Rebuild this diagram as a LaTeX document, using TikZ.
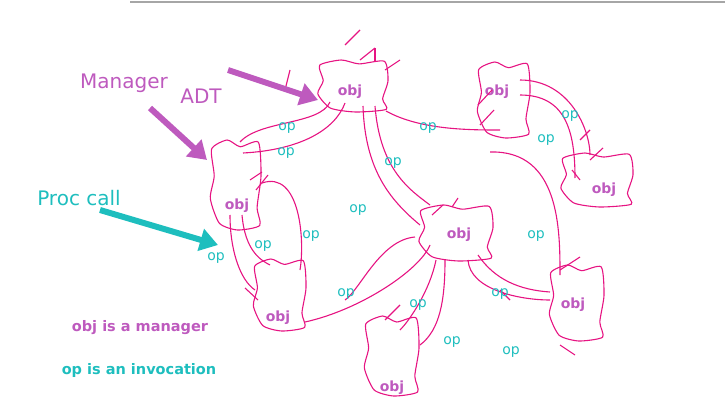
\documentclass[tikz,border=0pt]{standalone}
\usepackage{fontspec}
\setmainfont{DejaVu Sans}
\usetikzlibrary{arrows.meta}
\definecolor{mg}{RGB}{230,20,130}
\definecolor{pu}{RGB}{190,90,190}
\definecolor{tl}{RGB}{30,190,190}
\begin{document}
\begin{tikzpicture}[x=1pt,y=-1pt,
  ln/.style={mg,line width=1.1pt},
  op/.style={tl,font=\fontsize{14}{14}\selectfont},
  ob/.style={pu,font=\bfseries\fontsize{14}{14}\selectfont},
  big/.style={line width=6pt,-{Triangle[length=18pt,width=22pt]}}]
\useasboundingbox (0,0) rectangle (725,417);
\draw[gray!70,line width=2pt] (130,2) -- (725,2);
\newcommand\blob[4]{\draw[ln] plot[smooth cycle,tension=0.4] coordinates {
 ({#1-#3*0.9},{#2-#4*0.8}) ({#1-#3*0.3},{#2-#4}) ({#1+#3*0.2},{#2-#4*0.85}) ({#1+#3*0.9},{#2-#4*0.95})
 ({#1+#3},{#2-#4*0.2}) ({#1+#3*0.85},{#2+#4*0.5}) ({#1+#3*0.95},{#2+#4*0.9}) ({#1+#3*0.1},{#2+#4})
 ({#1-#3*0.6},{#2+#4*0.85}) ({#1-#3*0.95},{#2+#4*0.3}) ({#1-#3*0.8},{#2-#4*0.2})};}
\blob{352}{86}{36}{26}
\blob{235}{185}{26}{45}
\blob{503}{100}{27}{38}
\blob{596}{180}{37}{27}
\blob{455}{233}{38}{28}
\blob{279}{295}{27}{36}
\blob{576}{303}{28}{38}
\blob{391}{356}{28}{40}
\node[ob] (o1) at (350,92) {obj};
\node[ob] (o2) at (237,206) {obj};
\node[ob] (o3) at (497,92) {obj};
\node[ob] (o4) at (604,190) {obj};
\node[ob] (o5) at (459,235) {obj};
\node[ob] (o6) at (278,318) {obj};
\node[ob] (o7) at (573,305) {obj};
\node[ob] (o8) at (392,388) {obj};
% connectors
\draw[ln] (240,142) .. controls (260,120) and (320,125) .. (330,102);
\draw[ln] (243,153) .. controls (300,150) and (335,130) .. (345,103);
\draw[ln] (386,111) .. controls (420,130) and (470,130) .. (500,130);
\draw[ln] (490,152) .. controls (560,150) and (560,230) .. (560,275);
\draw[ln] (520,80) .. controls (570,80) and (590,130) .. (590,155);
\draw[ln] (520,95) .. controls (565,95) and (575,130) .. (575,178);
\draw[ln] (363,106) .. controls (365,170) and (390,200) .. (420,225);
\draw[ln] (375,106) .. controls (380,170) and (410,190) .. (430,205);
\draw[ln] (262,183) .. controls (300,170) and (305,240) .. (300,270);
\draw[ln] (230,215) .. controls (230,250) and (240,280) .. (255,290);
\draw[ln] (242,215) .. controls (245,250) and (260,260) .. (270,265);
\draw[ln] (305,322) .. controls (360,310) and (420,270) .. (430,245);
\draw[ln] (415,237) .. controls (380,240) and (360,290) .. (345,300);
\draw[ln] (436,260) .. controls (430,290) and (410,320) .. (400,330);
\draw[ln] (445,260) .. controls (445,300) and (440,330) .. (420,345);
\draw[ln] (468,260) .. controls (470,290) and (520,300) .. (550,300);
\draw[ln] (478,255) .. controls (495,280) and (520,290) .. (550,292);
% ticks
\foreach \a/\b/\c/\d in {345/45/360/30, 360/60/375/48, 375/62/375/48, 385/70/400/60,
  290/70/285/90, 478/105/492/90, 480/125/494/110, 250/180/262/172, 256/190/268/175,
  245/288/258/300, 580/140/590/130, 590/160/603/148, 560/270/580/257, 560/345/575/355,
  385/320/400/305, 432/215/443/205, 452/207/458/198, 500/290/510/300, 572/170/580/180}
  \draw[ln] (\a,\b) -- (\c,\d);
% ops
\foreach \x/\y in {287/128, 286/153, 428/128, 393/163, 358/210, 311/236, 263/246, 216/258,
  346/294, 418/305, 452/342, 511/352, 500/294, 536/236, 570/116, 546/140}
  \node[op] at (\x,\y) {op};
% big arrows
\draw[pu,big] (228,70) -- (318,100);
\draw[pu,big] (150,108) -- (207,160);
\draw[tl,big] (100,210) -- (218,245);
\node[pu,font=\fontsize{20}{20}\selectfont] at (124,83) {Manager};
\node[pu,font=\fontsize{20}{20}\selectfont] at (201,96) {ADT};
\node[tl,font=\fontsize{20}{20}\selectfont] at (79,198) {Proc call};
\node[pu,font=\bfseries\fontsize{14.5}{14.5}\selectfont] at (140,328) {obj is a manager};
\node[tl,font=\bfseries\fontsize{14.5}{14.5}\selectfont] at (139,370) {op is an invocation};
\end{tikzpicture}
\end{document}
